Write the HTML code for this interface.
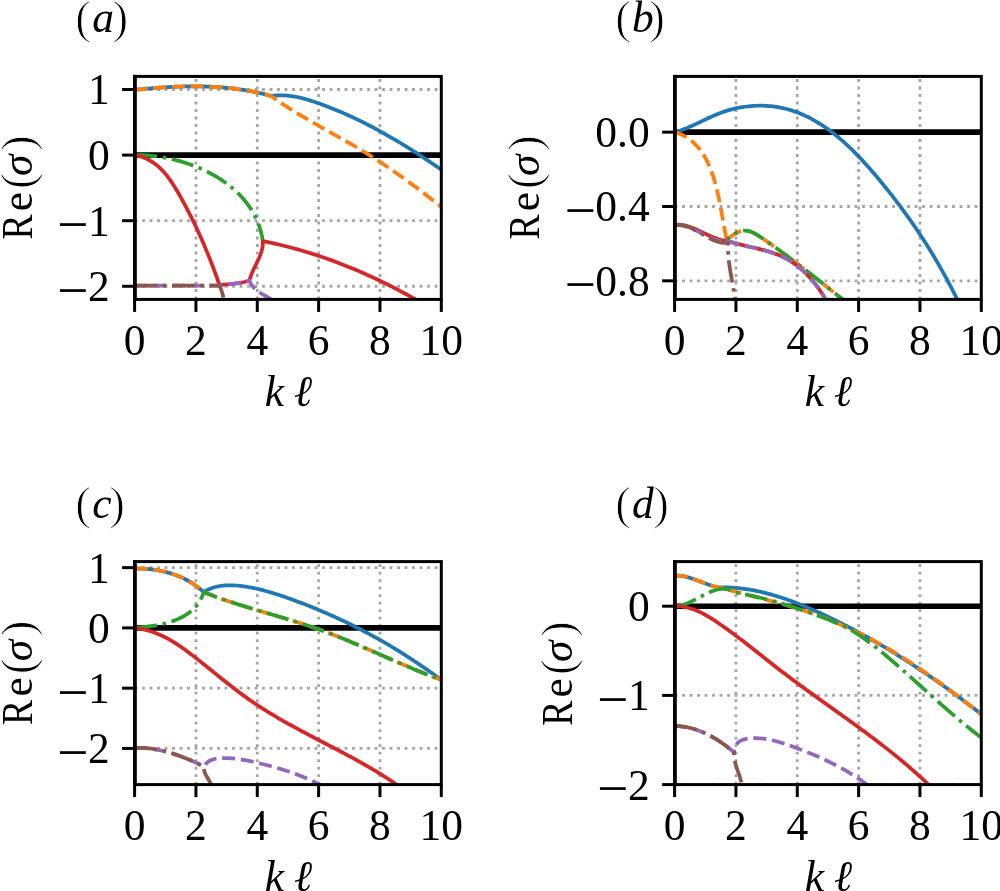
<!DOCTYPE html><html><head><meta charset="utf-8"><style>html,body{margin:0;padding:0;background:#fff;overflow:hidden;}svg{display:block;}text{font-family:"Liberation Serif",serif;font-size:43.50px;fill:#000;}.it{font-style:italic;}.pr{stroke:#fff;stroke-width:0.9px;}</style></head><body>
<svg width="1000" height="891" viewBox="0 0 1000 891">
<rect x="0" y="0" width="1000" height="891" fill="#fff"/>
<defs>
<clipPath id="clipa"><rect x="134.60" y="76.40" width="306.70" height="223.00"/></clipPath>
<clipPath id="clipb"><rect x="674.60" y="76.40" width="306.70" height="223.00"/></clipPath>
<clipPath id="clipc"><rect x="134.60" y="561.60" width="306.70" height="223.00"/></clipPath>
<clipPath id="clipd"><rect x="674.60" y="561.60" width="306.70" height="223.00"/></clipPath>
</defs>
<g stroke="#a6a6a6" stroke-width="2.83" stroke-dasharray="2.83 4.67" fill="none" clip-path="url(#clipa)"><line x1="195.94" y1="299.40" x2="195.94" y2="76.40"/><line x1="257.28" y1="299.40" x2="257.28" y2="76.40"/><line x1="318.62" y1="299.40" x2="318.62" y2="76.40"/><line x1="379.96" y1="299.40" x2="379.96" y2="76.40"/><line x1="134.60" y1="286.28" x2="441.30" y2="286.28"/><line x1="134.60" y1="220.69" x2="441.30" y2="220.69"/><line x1="134.60" y1="89.52" x2="441.30" y2="89.52"/></g>
<line x1="134.60" y1="155.11" x2="441.30" y2="155.11" stroke="#000" stroke-width="5.60"/>
<g clip-path="url(#clipa)" fill="none" stroke-width="3.75" stroke-linejoin="round">
<path d="M134.60,89.90 L136.64,89.69 L138.69,89.48 L140.73,89.28 L142.78,89.08 L144.82,88.88 L146.87,88.70 L148.92,88.51 L150.97,88.34 L153.02,88.16 L155.07,88.00 L157.12,87.84 L159.17,87.69 L161.22,87.54 L163.27,87.40 L165.32,87.27 L167.38,87.15 L169.43,87.03 L171.48,86.92 L173.53,86.82 L175.59,86.73 L177.64,86.65 L179.69,86.58 L181.75,86.51 L183.80,86.46 L185.85,86.41 L187.91,86.37 L189.96,86.35 L192.01,86.33 L194.06,86.32 L196.11,86.33 L198.16,86.34 L200.21,86.37 L202.26,86.41 L204.31,86.46 L206.36,86.52 L208.41,86.59 L210.45,86.68 L212.50,86.77 L214.54,86.88 L216.59,87.01 L218.63,87.14 L220.67,87.29 L222.71,87.46 L224.75,87.63 L226.79,87.82 L228.82,88.03 L230.86,88.25 L232.89,88.48 L234.93,88.73 L236.96,88.99 L238.99,89.27 L241.01,89.57 L243.04,89.88 L245.06,90.20 L247.09,90.55 L249.11,90.91 L251.13,91.28 L253.14,91.67 L255.16,92.08 L257.17,92.51 L259.18,92.95 L261.19,93.42 L263.20,93.90 L265.20,94.40 L267.20,94.91 L269.20,95.45 L271.20,96.00 L273.19,95.72 L275.18,95.52 L277.17,95.38 L279.15,95.30 L281.13,95.29 L283.11,95.33 L285.09,95.42 L287.06,95.57 L289.03,95.77 L290.99,96.02 L292.95,96.31 L294.91,96.65 L296.87,97.02 L298.82,97.44 L300.77,97.89 L302.72,98.37 L304.66,98.88 L306.60,99.43 L308.53,100.00 L310.46,100.59 L312.39,101.21 L314.32,101.84 L316.24,102.49 L318.15,103.16 L320.07,103.83 L321.98,104.52 L323.88,105.22 L325.78,105.93 L327.68,106.66 L329.58,107.39 L331.47,108.13 L333.35,108.89 L335.24,109.65 L337.11,110.43 L338.99,111.21 L340.86,112.01 L342.73,112.81 L344.59,113.63 L346.45,114.45 L348.31,115.29 L350.16,116.13 L352.01,116.98 L353.85,117.84 L355.69,118.71 L357.53,119.59 L359.36,120.48 L361.19,121.38 L363.02,122.28 L364.84,123.20 L366.65,124.12 L368.47,125.05 L370.28,125.99 L372.08,126.93 L373.88,127.88 L375.68,128.84 L377.48,129.81 L379.27,130.79 L381.05,131.77 L382.83,132.76 L384.61,133.75 L386.39,134.76 L388.16,135.77 L389.92,136.78 L391.69,137.80 L393.45,138.83 L395.20,139.86 L396.95,140.90 L398.70,141.95 L400.44,143.00 L402.18,144.06 L403.92,145.12 L405.65,146.18 L407.37,147.26 L409.10,148.33 L410.82,149.41 L412.53,150.50 L414.24,151.59 L415.95,152.69 L417.65,153.79 L419.35,154.89 L421.05,156.00 L422.74,157.11 L424.43,158.22 L426.11,159.34 L427.79,160.47 L429.47,161.59 L431.14,162.72 L432.81,163.85 L434.47,164.99 L436.13,166.12 L437.78,167.26 L439.43,168.41 L441.08,169.55 L442.73,170.70 L444.36,171.85 L446.00,173.00" stroke="#1f77b4" stroke-linecap="butt"/>
<path d="M134.60,89.90 L136.64,89.69 L138.69,89.48 L140.73,89.28 L142.78,89.08 L144.82,88.88 L146.87,88.70 L148.92,88.51 L150.97,88.34 L153.02,88.16 L155.07,88.00 L157.12,87.84 L159.17,87.69 L161.22,87.54 L163.27,87.40 L165.32,87.27 L167.38,87.15 L169.43,87.03 L171.48,86.92 L173.53,86.82 L175.59,86.73 L177.64,86.65 L179.69,86.58 L181.75,86.51 L183.80,86.46 L185.85,86.41 L187.91,86.37 L189.96,86.35 L192.01,86.33 L194.06,86.32 L196.11,86.33 L198.16,86.34 L200.21,86.37 L202.26,86.41 L204.31,86.46 L206.36,86.52 L208.41,86.59 L210.45,86.68 L212.50,86.77 L214.54,86.88 L216.59,87.01 L218.63,87.14 L220.67,87.29 L222.71,87.46 L224.75,87.63 L226.79,87.82 L228.82,88.03 L230.86,88.25 L232.89,88.48 L234.93,88.73 L236.96,88.99 L238.99,89.27 L241.01,89.57 L243.04,89.88 L245.06,90.20 L247.09,90.55 L249.11,90.91 L251.13,91.28 L253.14,91.67 L255.16,92.08 L257.17,92.51 L259.18,92.95 L261.19,93.42 L263.20,93.90 L265.20,94.40 L267.20,94.91 L269.20,95.45 L271.20,96.00 L272.83,97.19 L274.48,98.37 L276.13,99.53 L277.79,100.68 L279.45,101.83 L281.13,102.96 L282.81,104.08 L284.49,105.20 L286.19,106.30 L287.89,107.40 L289.59,108.49 L291.30,109.57 L293.02,110.64 L294.74,111.71 L296.47,112.77 L298.20,113.82 L299.93,114.86 L301.67,115.90 L303.42,116.94 L305.16,117.97 L306.91,118.99 L308.67,120.02 L310.43,121.03 L312.19,122.05 L313.95,123.05 L315.71,124.06 L317.48,125.07 L319.25,126.07 L321.02,127.07 L322.79,128.07 L324.56,129.06 L326.34,130.06 L328.11,131.05 L329.88,132.05 L331.66,133.04 L333.43,134.04 L335.21,135.04 L336.98,136.04 L338.75,137.04 L340.52,138.04 L342.29,139.04 L344.06,140.05 L345.83,141.06 L347.59,142.07 L349.36,143.09 L351.12,144.11 L352.87,145.13 L354.63,146.16 L356.38,147.20 L358.12,148.24 L359.87,149.28 L361.61,150.33 L363.34,151.39 L365.07,152.46 L366.80,153.53 L368.53,154.60 L370.24,155.68 L371.96,156.77 L373.67,157.87 L375.38,158.97 L377.09,160.07 L378.79,161.18 L380.48,162.30 L382.18,163.42 L383.87,164.55 L385.56,165.68 L387.24,166.81 L388.92,167.96 L390.60,169.10 L392.27,170.26 L393.94,171.41 L395.61,172.57 L397.27,173.74 L398.94,174.91 L400.59,176.09 L402.25,177.27 L403.90,178.45 L405.55,179.64 L407.20,180.83 L408.84,182.03 L410.48,183.23 L412.12,184.43 L413.76,185.64 L415.39,186.85 L417.02,188.07 L418.65,189.29 L420.28,190.51 L421.90,191.74 L423.52,192.97 L425.14,194.20 L426.76,195.44 L428.37,196.68 L429.98,197.92 L431.59,199.17 L433.20,200.42 L434.81,201.67 L436.41,202.92 L438.01,204.18 L439.61,205.44 L441.21,206.70 L442.81,207.97 L444.41,209.23 L446.00,210.50" stroke="#ff7f0e" stroke-dasharray="13.06 5.65" stroke-linecap="butt"/>
<path d="M134.60,155.00 L136.54,154.99 L138.48,155.01 L140.44,155.05 L142.41,155.12 L144.38,155.22 L146.37,155.34 L148.37,155.49 L150.37,155.66 L152.38,155.86 L154.39,156.09 L156.42,156.34 L158.44,156.62 L160.47,156.92 L162.50,157.26 L164.53,157.61 L166.57,158.00 L168.60,158.41 L170.64,158.84 L172.67,159.31 L174.70,159.80 L176.73,160.31 L178.75,160.85 L180.77,161.42 L182.78,162.01 L184.79,162.63 L186.79,163.28 L188.78,163.95 L190.77,164.65 L192.74,165.37 L194.71,166.12 L196.66,166.90 L198.60,167.70 L200.53,168.53 L202.45,169.38 L204.35,170.26 L206.24,171.17 L208.11,172.10 L209.96,173.06 L211.80,174.05 L213.61,175.06 L215.41,176.10 L217.19,177.16 L218.95,178.25 L220.69,179.37 L222.40,180.51 L224.09,181.68 L225.76,182.87 L227.41,184.09 L229.02,185.34 L230.61,186.61 L232.18,187.91 L233.71,189.24 L235.22,190.59 L236.70,191.96 L238.15,193.37 L239.56,194.80 L240.95,196.25 L242.30,197.73 L243.62,199.24 L244.90,200.77 L246.15,202.33 L247.36,203.92 L248.54,205.53 L249.67,207.17 L250.77,208.83 L251.83,210.52 L252.85,212.24 L253.83,213.98 L254.77,215.75 L255.67,217.54 L256.52,219.36 L257.33,221.21 L258.09,223.08 L258.81,224.98 L259.48,226.90 L260.10,228.85 L260.67,230.83 L261.20,232.83 L261.68,234.86 L262.10,236.91 L262.48,238.99 L262.80,241.10" stroke="#2ca02c" stroke-dasharray="22.59 5.65 3.53 5.65" stroke-linecap="butt"/>
<path d="M134.60,155.00 L136.72,155.41 L138.77,155.91 L140.77,156.49 L142.71,157.15 L144.59,157.88 L146.42,158.69 L148.19,159.56 L149.92,160.51 L151.60,161.52 L153.22,162.59 L154.81,163.72 L156.35,164.91 L157.84,166.16 L159.30,167.45 L160.71,168.80 L162.09,170.20 L163.44,171.63 L164.75,173.12 L166.03,174.64 L167.28,176.20 L168.49,177.79 L169.69,179.41 L170.85,181.07 L172.00,182.75 L173.12,184.45 L174.22,186.18 L175.30,187.93 L176.37,189.69 L177.42,191.47 L178.45,193.25 L179.48,195.05 L180.50,196.85 L181.50,198.66 L182.50,200.47 L183.49,202.29 L184.47,204.10 L185.45,205.92 L186.41,207.75 L187.37,209.58 L188.32,211.41 L189.26,213.24 L190.19,215.08 L191.12,216.92 L192.04,218.76 L192.95,220.61 L193.85,222.46 L194.74,224.31 L195.63,226.16 L196.50,228.02 L197.37,229.88 L198.23,231.74 L199.09,233.60 L199.94,235.47 L200.77,237.34 L201.60,239.21 L202.43,241.08 L203.24,242.96 L204.05,244.84 L204.85,246.71 L205.64,248.60 L206.43,250.48 L207.21,252.36 L207.98,254.25 L208.74,256.14 L209.50,258.03 L210.24,259.92 L210.98,261.81 L211.72,263.70 L212.44,265.60 L213.16,267.49 L213.87,269.39 L214.58,271.29 L215.27,273.19 L215.96,275.09 L216.64,276.99 L217.32,278.89 L217.99,280.79 L218.65,282.70 L219.30,284.60 L221.47,284.59 L223.65,284.54 L225.83,284.46 L228.00,284.33 L230.17,284.17 L232.34,283.97 L234.50,283.72 L236.66,283.43 L238.81,283.08 L240.95,282.69 L243.08,282.25 L245.20,281.76 L247.31,281.21 L249.40,280.60 L249.95,278.57 L250.59,276.58 L251.32,274.61 L252.12,272.66 L252.97,270.74 L253.87,268.82 L254.80,266.92 L255.73,265.02 L256.67,263.12 L257.59,261.22 L258.48,259.31 L259.33,257.39 L260.12,255.45 L260.83,253.50 L261.46,251.52 L261.99,249.51 L262.40,247.46 L262.68,245.39 L262.82,243.27 L262.80,241.10 L264.80,241.50 L266.80,241.90 L268.80,242.32 L270.80,242.75 L272.79,243.18 L274.78,243.63 L276.77,244.08 L278.76,244.54 L280.75,245.01 L282.73,245.49 L284.71,245.98 L286.69,246.48 L288.67,246.99 L290.64,247.50 L292.61,248.03 L294.58,248.56 L296.55,249.11 L298.51,249.66 L300.47,250.22 L302.43,250.79 L304.39,251.36 L306.34,251.95 L308.29,252.54 L310.24,253.15 L312.19,253.76 L314.13,254.38 L316.07,255.00 L318.01,255.64 L319.95,256.28 L321.88,256.94 L323.81,257.60 L325.74,258.26 L327.66,258.94 L329.59,259.63 L331.50,260.32 L333.42,261.02 L335.34,261.73 L337.25,262.44 L339.15,263.17 L341.06,263.90 L342.96,264.64 L344.86,265.38 L346.76,266.14 L348.65,266.90 L350.54,267.67 L352.43,268.44 L354.32,269.23 L356.20,270.02 L358.08,270.82 L359.95,271.62 L361.82,272.44 L363.69,273.26 L365.56,274.09 L367.42,274.92 L369.28,275.76 L371.14,276.61 L372.99,277.47 L374.84,278.33 L376.69,279.20 L378.53,280.07 L380.38,280.96 L382.21,281.85 L384.05,282.74 L385.88,283.64 L387.70,284.55 L389.53,285.47 L391.35,286.39 L393.17,287.32 L394.98,288.26 L396.79,289.20 L398.60,290.15 L400.40,291.10 L402.20,292.06 L404.00,293.03 L405.79,294.00 L407.58,294.98 L409.36,295.96 L411.15,296.96 L412.92,297.95 L414.70,298.96 L416.47,299.96 L418.24,300.98 L420.00,302.00" stroke="#d62728" stroke-linecap="butt"/>
<path d="M134.60,285.60 L219.30,285.60 L221.44,285.19 L223.60,284.84 L225.76,284.54 L227.93,284.28 L230.10,284.05 L232.27,283.82 L234.45,283.59 L236.61,283.33 L238.77,283.05 L240.93,282.71 L243.07,282.31 L245.20,281.84 L247.31,281.27 L249.40,280.60 L250.31,282.71 L251.41,284.63 L252.66,286.38 L254.06,287.98 L255.59,289.45 L257.23,290.80 L258.97,292.06 L260.78,293.24 L262.65,294.36 L264.57,295.44 L266.51,296.49 L268.46,297.53 L270.40,298.59 L272.31,299.67 L274.19,300.80 L276.00,302.00" stroke="#9467bd" stroke-dasharray="13.06 5.65" stroke-linecap="butt"/>
<path d="M134.60,285.60 L219.30,285.60 L220.34,287.63 L221.22,289.73 L221.95,291.88 L222.57,294.08 L223.10,296.30 L223.58,298.54 L224.04,300.78 L224.50,303.00" stroke="#8c564b" stroke-dasharray="22.59 5.65 3.53 5.65" stroke-linecap="butt"/>
</g>
<rect x="134.60" y="76.40" width="306.70" height="223.00" fill="none" stroke="#000" stroke-width="3.00" stroke-linejoin="miter"/>
<line x1="134.90" y1="74.90" x2="134.90" y2="300.90" stroke="#000" stroke-width="3.8"/>
<g stroke="#000" stroke-width="3.00"><line x1="134.60" y1="299.40" x2="134.60" y2="311.90"/><line x1="195.94" y1="299.40" x2="195.94" y2="311.90"/><line x1="257.28" y1="299.40" x2="257.28" y2="311.90"/><line x1="318.62" y1="299.40" x2="318.62" y2="311.90"/><line x1="379.96" y1="299.40" x2="379.96" y2="311.90"/><line x1="441.30" y1="299.40" x2="441.30" y2="311.90"/><line x1="134.60" y1="286.28" x2="122.10" y2="286.28"/><line x1="134.60" y1="220.69" x2="122.10" y2="220.69"/><line x1="134.60" y1="155.11" x2="122.10" y2="155.11"/><line x1="134.60" y1="89.52" x2="122.10" y2="89.52"/></g>
<text x="134.60" y="354.70" text-anchor="middle">0</text>
<text x="195.94" y="354.70" text-anchor="middle">2</text>
<text x="257.28" y="354.70" text-anchor="middle">4</text>
<text x="318.62" y="354.70" text-anchor="middle">6</text>
<text x="379.96" y="354.70" text-anchor="middle">8</text>
<text x="441.30" y="354.70" text-anchor="middle">10</text>
<text><tspan x="57.03" y="308.77" style="font-size:55.68px">−</tspan><tspan x="87.95" y="301.18">2</tspan></text>
<text><tspan x="57.03" y="243.18" style="font-size:55.68px">−</tspan><tspan x="87.95" y="235.59">1</tspan></text>
<text x="87.95" y="170.01">0</text>
<text x="87.95" y="104.42">1</text>
<text class="it"><tspan x="264.75" y="405.50">k </tspan><tspan x="293.90" y="405.50">ℓ</tspan></text>
<text transform="translate(31.70,238.50) rotate(-90)"><tspan x="-1.08" y="0" textLength="25.04" lengthAdjust="spacingAndGlyphs">R</tspan><tspan x="27.30" y="0">e</tspan><tspan x="49.63" y="0.9" class="pr" style="font-size:47.0px">(</tspan><tspan x="62.60" y="0" class="it">σ</tspan><tspan x="87.59" y="0.9" class="pr" style="font-size:47.0px">)</tspan></text>
<text><tspan x="75.13" y="33.30" class="pr" style="font-size:47.0px">(</tspan><tspan x="92.30" y="32.40" class="it">a</tspan><tspan x="112.41" y="33.30" class="pr" style="font-size:47.0px">)</tspan></text>
<g stroke="#a6a6a6" stroke-width="2.83" stroke-dasharray="2.83 4.67" fill="none" clip-path="url(#clipb)"><line x1="735.94" y1="299.40" x2="735.94" y2="76.40"/><line x1="797.28" y1="299.40" x2="797.28" y2="76.40"/><line x1="858.62" y1="299.40" x2="858.62" y2="76.40"/><line x1="919.96" y1="299.40" x2="919.96" y2="76.40"/><line x1="674.60" y1="280.82" x2="981.30" y2="280.82"/><line x1="674.60" y1="206.48" x2="981.30" y2="206.48"/></g>
<line x1="674.60" y1="132.15" x2="981.30" y2="132.15" stroke="#000" stroke-width="5.60"/>
<g clip-path="url(#clipb)" fill="none" stroke-width="3.75" stroke-linejoin="round">
<path d="M674.60,132.10 L676.53,131.59 L678.45,131.03 L680.36,130.43 L682.25,129.78 L684.12,129.10 L685.99,128.38 L687.85,127.63 L689.70,126.85 L691.54,126.05 L693.37,125.23 L695.20,124.39 L697.03,123.53 L698.85,122.67 L700.68,121.80 L702.50,120.92 L704.33,120.04 L706.16,119.17 L707.99,118.30 L709.83,117.45 L711.67,116.61 L713.52,115.78 L715.38,114.97 L717.25,114.19 L719.14,113.44 L721.03,112.71 L722.94,112.02 L724.86,111.37 L726.80,110.75 L728.75,110.16 L730.71,109.61 L732.68,109.10 L734.65,108.62 L736.64,108.18 L738.64,107.78 L740.64,107.41 L742.65,107.07 L744.66,106.77 L746.68,106.51 L748.70,106.29 L750.72,106.10 L752.74,105.94 L754.76,105.83 L756.79,105.75 L758.81,105.70 L760.83,105.70 L762.85,105.73 L764.86,105.79 L766.86,105.90 L768.87,106.04 L770.86,106.21 L772.85,106.43 L774.83,106.68 L776.80,106.97 L778.76,107.29 L780.70,107.66 L782.64,108.06 L784.56,108.49 L786.47,108.97 L788.37,109.48 L790.25,110.02 L792.13,110.61 L793.99,111.22 L795.83,111.87 L797.67,112.55 L799.49,113.27 L801.30,114.01 L803.10,114.79 L804.89,115.60 L806.67,116.43 L808.43,117.30 L810.19,118.20 L811.93,119.12 L813.66,120.08 L815.37,121.06 L817.08,122.06 L818.78,123.10 L820.46,124.15 L822.14,125.24 L823.80,126.34 L825.45,127.47 L827.09,128.62 L828.72,129.80 L830.34,131.00 L831.95,132.22 L833.55,133.45 L835.14,134.71 L836.72,135.99 L838.29,137.29 L839.85,138.60 L841.40,139.94 L842.94,141.28 L844.47,142.65 L845.99,144.03 L847.50,145.43 L849.00,146.84 L850.49,148.27 L851.97,149.71 L853.44,151.16 L854.90,152.62 L856.36,154.10 L857.80,155.58 L859.24,157.08 L860.66,158.59 L862.08,160.10 L863.49,161.63 L864.89,163.16 L866.28,164.70 L867.67,166.25 L869.04,167.80 L870.41,169.36 L871.77,170.92 L873.12,172.49 L874.46,174.06 L875.80,175.64 L877.13,177.21 L878.45,178.79 L879.76,180.37 L881.06,181.96 L882.36,183.54 L883.65,185.12 L884.93,186.70 L886.20,188.29 L887.47,189.87 L888.73,191.45 L889.99,193.04 L891.23,194.62 L892.47,196.20 L893.70,197.79 L894.93,199.38 L896.15,200.97 L897.36,202.56 L898.56,204.15 L899.76,205.74 L900.95,207.33 L902.14,208.93 L903.32,210.53 L904.49,212.13 L905.65,213.73 L906.81,215.33 L907.97,216.94 L909.11,218.55 L910.26,220.16 L911.39,221.77 L912.52,223.39 L913.64,225.01 L914.76,226.63 L915.87,228.26 L916.98,229.89 L918.08,231.52 L919.17,233.16 L920.26,234.80 L921.34,236.45 L922.42,238.09 L923.49,239.75 L924.56,241.40 L925.62,243.06 L926.68,244.73 L927.73,246.40 L928.78,248.07 L929.82,249.75 L930.85,251.44 L931.89,253.13 L932.91,254.82 L933.93,256.52 L934.95,258.23 L935.96,259.94 L936.97,261.66 L937.97,263.38 L938.97,265.11 L939.97,266.84 L940.95,268.59 L941.94,270.33 L942.92,272.09 L943.90,273.85 L944.87,275.61 L945.84,277.39 L946.80,279.17 L947.76,280.96 L948.72,282.75 L949.67,284.55 L950.62,286.36 L951.57,288.18 L952.51,290.00 L953.45,291.84 L954.38,293.68 L955.31,295.53 L956.24,297.38 L957.16,299.25 L958.08,301.12 L959.00,303.00" stroke="#1f77b4" stroke-linecap="butt"/>
<path d="M674.60,132.10 L676.67,132.74 L678.68,133.46 L680.62,134.25 L682.49,135.11 L684.30,136.04 L686.05,137.04 L687.74,138.11 L689.36,139.23 L690.93,140.42 L692.44,141.67 L693.90,142.97 L695.30,144.33 L696.65,145.74 L697.95,147.20 L699.20,148.71 L700.40,150.26 L701.55,151.86 L702.66,153.50 L703.73,155.18 L704.75,156.89 L705.73,158.65 L706.67,160.43 L707.57,162.25 L708.44,164.09 L709.27,165.96 L710.06,167.86 L710.82,169.78 L711.55,171.72 L712.25,173.68 L712.93,175.65 L713.57,177.64 L714.19,179.64 L714.79,181.65 L715.36,183.67 L715.91,185.70 L716.44,187.74 L716.95,189.79 L717.44,191.84 L717.91,193.90 L718.37,195.96 L718.81,198.03 L719.24,200.09 L719.65,202.16 L720.06,204.23 L720.45,206.29 L720.84,208.35 L721.22,210.41 L721.59,212.47 L721.95,214.52 L722.32,216.56 L722.68,218.60 L723.04,220.63 L723.39,222.64 L723.75,224.65 L724.11,226.65 L724.48,228.63 L724.85,230.60 L725.22,232.55 L725.60,234.49 L725.99,236.41 L726.39,238.31 L726.80,240.20 L728.21,238.84 L729.72,237.49 L731.33,236.18 L733.02,234.94 L734.76,233.80 L736.56,232.78 L738.39,231.92 L740.24,231.25 L742.09,230.79 L743.94,230.58 L745.77,230.60 L747.58,230.84 L749.38,231.28 L751.17,231.88 L752.95,232.63 L754.72,233.51 L756.47,234.50 L758.22,235.57 L759.96,236.69 L761.68,237.86 L763.41,239.04 L765.12,240.22 L766.82,241.41 L768.52,242.59 L770.22,243.79 L771.90,244.98 L773.58,246.18 L775.26,247.38 L776.92,248.58 L778.59,249.78 L780.24,250.99 L781.89,252.20 L783.54,253.41 L785.18,254.62 L786.82,255.84 L788.45,257.06 L790.08,258.28 L791.70,259.50 L793.32,260.72 L794.94,261.95 L796.55,263.18 L798.16,264.41 L799.77,265.64 L801.37,266.87 L802.97,268.11 L804.57,269.35 L806.17,270.58 L807.76,271.83 L809.36,273.07 L810.95,274.31 L812.54,275.56 L814.13,276.81 L815.72,278.05 L817.30,279.30 L818.89,280.56 L820.48,281.81 L822.07,283.06 L823.65,284.32 L825.24,285.57 L826.83,286.83 L828.42,288.09 L830.01,289.35 L831.60,290.61 L833.19,291.87 L834.78,293.14 L836.38,294.40 L837.98,295.66 L839.58,296.93 L841.18,298.20 L842.78,299.46 L844.39,300.73 L846.00,302.00" stroke="#ff7f0e" stroke-dasharray="13.06 5.65" stroke-linecap="butt"/>
<path d="M726.80,240.20 L728.21,238.84 L729.72,237.49 L731.33,236.18 L733.02,234.94 L734.76,233.80 L736.56,232.78 L738.39,231.92 L740.24,231.25 L742.09,230.79 L743.94,230.58 L745.77,230.60 L747.58,230.84 L749.38,231.28 L751.17,231.88 L752.95,232.63 L754.72,233.51 L756.47,234.50 L758.22,235.57 L759.96,236.69 L761.68,237.86 L763.41,239.04 L765.12,240.22 L766.82,241.41 L768.52,242.59 L770.22,243.79 L771.90,244.98 L773.58,246.18 L775.26,247.38 L776.92,248.58 L778.59,249.78 L780.24,250.99 L781.89,252.20 L783.54,253.41 L785.18,254.62 L786.82,255.84 L788.45,257.06 L790.08,258.28 L791.70,259.50 L793.32,260.72 L794.94,261.95 L796.55,263.18 L798.16,264.41 L799.77,265.64 L801.37,266.87 L802.97,268.11 L804.57,269.35 L806.17,270.58 L807.76,271.83 L809.36,273.07 L810.95,274.31 L812.54,275.56 L814.13,276.81 L815.72,278.05 L817.30,279.30 L818.89,280.56 L820.48,281.81 L822.07,283.06 L823.65,284.32 L825.24,285.57 L826.83,286.83 L828.42,288.09 L830.01,289.35 L831.60,290.61 L833.19,291.87 L834.78,293.14 L836.38,294.40 L837.98,295.66 L839.58,296.93 L841.18,298.20 L842.78,299.46 L844.39,300.73 L846.00,302.00" stroke="#2ca02c" stroke-dasharray="22.59 5.65 3.53 5.65" stroke-dashoffset="18.30" stroke-linecap="butt"/>
<path d="M674.60,224.60 L676.82,224.55 L679.00,224.64 L681.13,224.85 L683.24,225.19 L685.31,225.63 L687.35,226.17 L689.37,226.79 L691.37,227.49 L693.35,228.26 L695.31,229.08 L697.26,229.94 L699.20,230.84 L701.13,231.75 L703.07,232.68 L705.00,233.61 L706.93,234.53 L708.88,235.43 L710.83,236.29 L712.80,237.12 L714.78,237.89 L716.78,238.60 L718.81,239.23 L720.86,239.78 L722.94,240.23 L725.05,240.57 L727.20,240.80 L729.09,241.43 L731.00,242.03 L732.93,242.60 L734.87,243.15 L736.82,243.68 L738.79,244.19 L740.77,244.68 L742.75,245.16 L744.75,245.63 L746.75,246.10 L748.75,246.56 L750.75,247.02 L752.76,247.48 L754.76,247.94 L756.77,248.41 L758.77,248.89 L760.76,249.39 L762.74,249.89 L764.72,250.42 L766.69,250.97 L768.64,251.54 L770.58,252.14 L772.51,252.77 L774.42,253.43 L776.31,254.13 L778.18,254.86 L780.03,255.63 L781.86,256.45 L783.66,257.32 L785.43,258.23 L787.19,259.18 L788.91,260.18 L790.61,261.22 L792.29,262.30 L793.94,263.42 L795.57,264.58 L797.17,265.79 L798.75,267.03 L800.30,268.30 L801.82,269.62 L803.33,270.96 L804.80,272.35 L806.25,273.76 L807.68,275.21 L809.08,276.69 L810.45,278.20 L811.80,279.74 L813.12,281.30 L814.42,282.90 L815.69,284.52 L816.94,286.17 L818.16,287.84 L819.35,289.54 L820.52,291.26 L821.67,293.00 L822.79,294.76 L823.88,296.54 L824.94,298.34 L825.98,300.16 L827.00,302.00" stroke="#d62728" stroke-linecap="butt"/>
<path d="M674.60,225.00 L676.83,224.95 L679.01,225.07 L681.16,225.33 L683.26,225.73 L685.33,226.25 L687.37,226.88 L689.38,227.60 L691.37,228.40 L693.34,229.27 L695.30,230.19 L697.24,231.16 L699.17,232.15 L701.09,233.16 L703.02,234.17 L704.94,235.16 L706.87,236.13 L708.80,237.07 L710.75,237.95 L712.72,238.76 L714.70,239.49 L716.71,240.14 L718.74,240.67 L720.80,241.09 L722.90,241.38 L725.03,241.52 L727.20,241.50 L727.20,240.80 L729.09,241.43 L731.00,242.03 L732.93,242.60 L734.87,243.15 L736.82,243.68 L738.79,244.19 L740.77,244.68 L742.75,245.16 L744.75,245.63 L746.75,246.10 L748.75,246.56 L750.75,247.02 L752.76,247.48 L754.76,247.94 L756.77,248.41 L758.77,248.89 L760.76,249.39 L762.74,249.89 L764.72,250.42 L766.69,250.97 L768.64,251.54 L770.58,252.14 L772.51,252.77 L774.42,253.43 L776.31,254.13 L778.18,254.86 L780.03,255.63 L781.86,256.45 L783.66,257.32 L785.43,258.23 L787.19,259.18 L788.91,260.18 L790.61,261.22 L792.29,262.30 L793.94,263.42 L795.57,264.58 L797.17,265.79 L798.75,267.03 L800.30,268.30 L801.82,269.62 L803.33,270.96 L804.80,272.35 L806.25,273.76 L807.68,275.21 L809.08,276.69 L810.45,278.20 L811.80,279.74 L813.12,281.30 L814.42,282.90 L815.69,284.52 L816.94,286.17 L818.16,287.84 L819.35,289.54 L820.52,291.26 L821.67,293.00 L822.79,294.76 L823.88,296.54 L824.94,298.34 L825.98,300.16 L827.00,302.00" stroke="#9467bd" stroke-dasharray="13.06 5.65" stroke-linecap="butt"/>
<path d="M674.60,225.00 L676.85,224.86 L679.05,224.90 L681.20,225.10 L683.30,225.46 L685.36,225.97 L687.37,226.59 L689.36,227.33 L691.31,228.16 L693.24,229.08 L695.14,230.06 L697.02,231.09 L698.89,232.16 L700.75,233.25 L702.61,234.36 L704.46,235.45 L706.31,236.53 L708.17,237.57 L710.04,238.55 L711.93,239.48 L713.83,240.32 L715.75,241.08 L717.70,241.72 L719.69,242.24 L721.70,242.62 L723.76,242.85 L725.85,242.92 L728.00,242.80 L727.93,244.94 L727.91,247.07 L727.94,249.20 L728.01,251.32 L728.13,253.45 L728.29,255.57 L728.48,257.68 L728.71,259.80 L728.96,261.91 L729.24,264.02 L729.55,266.13 L729.87,268.24 L730.21,270.35 L730.56,272.46 L730.93,274.56 L731.30,276.67 L731.67,278.77 L732.04,280.88 L732.41,282.98 L732.77,285.09 L733.12,287.20 L733.45,289.31 L733.77,291.42 L734.07,293.53 L734.35,295.64 L734.60,297.76 L734.81,299.88 L735.00,302.00" stroke="#8c564b" stroke-dasharray="22.59 5.65 3.53 5.65" stroke-linecap="butt"/>
</g>
<rect x="674.60" y="76.40" width="306.70" height="223.00" fill="none" stroke="#000" stroke-width="3.00" stroke-linejoin="miter"/>
<line x1="674.90" y1="74.90" x2="674.90" y2="300.90" stroke="#000" stroke-width="3.8"/>
<g stroke="#000" stroke-width="3.00"><line x1="674.60" y1="299.40" x2="674.60" y2="311.90"/><line x1="735.94" y1="299.40" x2="735.94" y2="311.90"/><line x1="797.28" y1="299.40" x2="797.28" y2="311.90"/><line x1="858.62" y1="299.40" x2="858.62" y2="311.90"/><line x1="919.96" y1="299.40" x2="919.96" y2="311.90"/><line x1="981.30" y1="299.40" x2="981.30" y2="311.90"/><line x1="674.60" y1="280.82" x2="662.10" y2="280.82"/><line x1="674.60" y1="206.48" x2="662.10" y2="206.48"/><line x1="674.60" y1="132.15" x2="662.10" y2="132.15"/></g>
<text x="674.60" y="354.70" text-anchor="middle">0</text>
<text x="735.94" y="354.70" text-anchor="middle">2</text>
<text x="797.28" y="354.70" text-anchor="middle">4</text>
<text x="858.62" y="354.70" text-anchor="middle">6</text>
<text x="919.96" y="354.70" text-anchor="middle">8</text>
<text x="981.30" y="354.70" text-anchor="middle">10</text>
<text><tspan x="564.43" y="303.30" style="font-size:55.68px">−</tspan><tspan x="595.33" y="295.72">0.8</tspan></text>
<text><tspan x="564.43" y="228.97" style="font-size:55.68px">−</tspan><tspan x="595.33" y="221.38">0.4</tspan></text>
<text x="595.33" y="147.05">0.0</text>
<text class="it"><tspan x="804.75" y="405.50">k </tspan><tspan x="833.90" y="405.50">ℓ</tspan></text>
<text transform="translate(539.40,238.50) rotate(-90)"><tspan x="-1.08" y="0" textLength="25.04" lengthAdjust="spacingAndGlyphs">R</tspan><tspan x="27.30" y="0">e</tspan><tspan x="49.63" y="0.9" class="pr" style="font-size:47.0px">(</tspan><tspan x="62.60" y="0" class="it">σ</tspan><tspan x="87.59" y="0.9" class="pr" style="font-size:47.0px">)</tspan></text>
<text><tspan x="615.13" y="33.30" class="pr" style="font-size:47.0px">(</tspan><tspan x="631.99" y="32.40" class="it">b</tspan><tspan x="649.21" y="33.30" class="pr" style="font-size:47.0px">)</tspan></text>
<g stroke="#a6a6a6" stroke-width="2.83" stroke-dasharray="2.83 4.67" fill="none" clip-path="url(#clipc)"><line x1="195.94" y1="784.60" x2="195.94" y2="561.60"/><line x1="257.28" y1="784.60" x2="257.28" y2="561.60"/><line x1="318.62" y1="784.60" x2="318.62" y2="561.60"/><line x1="379.96" y1="784.60" x2="379.96" y2="561.60"/><line x1="134.60" y1="748.44" x2="441.30" y2="748.44"/><line x1="134.60" y1="688.17" x2="441.30" y2="688.17"/><line x1="134.60" y1="567.63" x2="441.30" y2="567.63"/></g>
<line x1="134.60" y1="627.90" x2="441.30" y2="627.90" stroke="#000" stroke-width="5.60"/>
<g clip-path="url(#clipc)" fill="none" stroke-width="3.75" stroke-linejoin="round">
<path d="M134.60,568.50 L136.67,568.49 L138.75,568.51 L140.83,568.56 L142.91,568.65 L144.99,568.77 L147.07,568.92 L149.15,569.11 L151.22,569.33 L153.29,569.59 L155.35,569.89 L157.40,570.22 L159.45,570.59 L161.49,571.00 L163.52,571.45 L165.54,571.93 L167.55,572.46 L169.54,573.02 L171.52,573.63 L173.49,574.27 L175.43,574.96 L177.37,575.70 L179.28,576.47 L181.18,577.29 L183.05,578.15 L184.90,579.05 L186.74,580.00 L188.54,581.00 L190.33,582.04 L192.09,583.13 L193.82,584.27 L195.52,585.45 L197.20,586.68 L198.85,587.96 L200.46,589.29 L202.05,590.67 L203.60,592.10 L205.36,591.05 L207.15,590.10 L208.96,589.24 L210.80,588.49 L212.65,587.82 L214.52,587.24 L216.40,586.75 L218.30,586.33 L220.22,585.99 L222.15,585.72 L224.09,585.51 L226.04,585.37 L228.00,585.29 L229.96,585.27 L231.94,585.30 L233.91,585.38 L235.90,585.50 L237.88,585.67 L239.87,585.87 L241.85,586.10 L243.84,586.37 L245.82,586.66 L247.81,586.98 L249.79,587.33 L251.77,587.70 L253.74,588.10 L255.72,588.52 L257.69,588.96 L259.66,589.43 L261.63,589.92 L263.60,590.43 L265.56,590.95 L267.53,591.50 L269.49,592.06 L271.44,592.64 L273.39,593.23 L275.35,593.84 L277.29,594.46 L279.24,595.09 L281.18,595.74 L283.11,596.39 L285.05,597.06 L286.98,597.73 L288.90,598.41 L290.82,599.10 L292.74,599.79 L294.65,600.49 L296.56,601.19 L298.47,601.91 L300.37,602.62 L302.27,603.35 L304.16,604.07 L306.05,604.81 L307.94,605.55 L309.82,606.30 L311.70,607.05 L313.57,607.81 L315.44,608.58 L317.31,609.35 L319.17,610.12 L321.03,610.91 L322.89,611.70 L324.74,612.49 L326.58,613.29 L328.43,614.10 L330.27,614.92 L332.11,615.74 L333.94,616.56 L335.77,617.39 L337.59,618.23 L339.41,619.08 L341.23,619.93 L343.05,620.78 L344.86,621.64 L346.67,622.51 L348.47,623.39 L350.27,624.27 L352.07,625.16 L353.86,626.05 L355.65,626.95 L357.44,627.85 L359.22,628.76 L361.00,629.68 L362.78,630.61 L364.55,631.54 L366.32,632.47 L368.09,633.41 L369.85,634.36 L371.61,635.32 L373.37,636.28 L375.12,637.24 L376.87,638.22 L378.61,639.20 L380.36,640.18 L382.10,641.17 L383.83,642.17 L385.57,643.18 L387.30,644.19 L389.03,645.20 L390.75,646.23 L392.47,647.26 L394.19,648.29 L395.90,649.33 L397.62,650.38 L399.32,651.43 L401.03,652.49 L402.73,653.56 L404.43,654.63 L406.13,655.71 L407.82,656.80 L409.51,657.89 L411.20,658.99 L412.89,660.09 L414.57,661.20 L416.25,662.32 L417.92,663.44 L419.60,664.57 L421.27,665.71 L422.94,666.85 L424.60,668.00 L426.26,669.15 L427.92,670.31 L429.58,671.48 L431.23,672.65 L432.89,673.83 L434.53,675.02 L436.18,676.21 L437.82,677.41 L439.46,678.62 L441.10,679.83 L442.74,681.05 L444.37,682.27 L446.00,683.50" stroke="#1f77b4" stroke-linecap="butt"/>
<path d="M134.60,568.50 L136.67,568.49 L138.75,568.51 L140.83,568.56 L142.91,568.65 L144.99,568.77 L147.07,568.92 L149.15,569.11 L151.22,569.33 L153.29,569.59 L155.35,569.89 L157.40,570.22 L159.45,570.59 L161.49,571.00 L163.52,571.45 L165.54,571.93 L167.55,572.46 L169.54,573.02 L171.52,573.63 L173.49,574.27 L175.43,574.96 L177.37,575.70 L179.28,576.47 L181.18,577.29 L183.05,578.15 L184.90,579.05 L186.74,580.00 L188.54,581.00 L190.33,582.04 L192.09,583.13 L193.82,584.27 L195.52,585.45 L197.20,586.68 L198.85,587.96 L200.46,589.29 L202.05,590.67 L203.60,592.10 L205.47,592.85 L207.34,593.59 L209.22,594.32 L211.10,595.04 L212.99,595.75 L214.88,596.45 L216.77,597.14 L218.66,597.83 L220.56,598.50 L222.46,599.17 L224.37,599.83 L226.28,600.48 L228.19,601.12 L230.10,601.76 L232.01,602.39 L233.93,603.01 L235.85,603.63 L237.77,604.25 L239.69,604.86 L241.62,605.46 L243.55,606.06 L245.48,606.65 L247.41,607.24 L249.34,607.83 L251.27,608.42 L253.20,609.00 L255.14,609.58 L257.07,610.15 L259.01,610.73 L260.95,611.30 L262.89,611.87 L264.82,612.44 L266.76,613.01 L268.70,613.58 L270.64,614.15 L272.58,614.73 L274.52,615.30 L276.46,615.87 L278.39,616.44 L280.33,617.02 L282.27,617.59 L284.21,618.17 L286.14,618.75 L288.08,619.34 L290.01,619.93 L291.94,620.52 L293.87,621.11 L295.80,621.71 L297.73,622.32 L299.65,622.92 L301.58,623.54 L303.50,624.16 L305.42,624.78 L307.34,625.41 L309.26,626.05 L311.17,626.70 L313.08,627.35 L314.99,628.01 L316.90,628.67 L318.80,629.35 L320.70,630.03 L322.60,630.72 L324.49,631.42 L326.38,632.12 L328.27,632.84 L330.16,633.56 L332.05,634.28 L333.93,635.02 L335.81,635.76 L337.69,636.50 L339.56,637.25 L341.44,638.01 L343.31,638.77 L345.18,639.54 L347.05,640.31 L348.92,641.08 L350.78,641.86 L352.65,642.65 L354.51,643.44 L356.37,644.23 L358.23,645.02 L360.09,645.82 L361.95,646.62 L363.81,647.42 L365.67,648.23 L367.52,649.03 L369.38,649.84 L371.23,650.65 L373.09,651.46 L374.94,652.28 L376.80,653.09 L378.65,653.90 L380.51,654.72 L382.36,655.53 L384.21,656.35 L386.07,657.16 L387.92,657.97 L389.78,658.79 L391.63,659.60 L393.49,660.41 L395.34,661.21 L397.20,662.02 L399.06,662.82 L400.92,663.62 L402.78,664.42 L404.64,665.22 L406.50,666.01 L408.36,666.80 L410.23,667.59 L412.09,668.37 L413.96,669.15 L415.83,669.92 L417.70,670.69 L419.57,671.45 L421.44,672.21 L423.32,672.96 L425.19,673.71 L427.07,674.45 L428.95,675.19 L430.84,675.92 L432.72,676.64 L434.61,677.36 L436.50,678.07 L438.40,678.77 L440.29,679.47 L442.19,680.15 L444.09,680.83 L446.00,681.50" stroke="#ff7f0e" stroke-dasharray="13.06 5.65" stroke-linecap="butt"/>
<path d="M134.60,628.00 L136.54,627.82 L138.50,627.62 L140.49,627.42 L142.50,627.20 L144.54,626.96 L146.59,626.71 L148.65,626.44 L150.72,626.15 L152.80,625.83 L154.88,625.48 L156.97,625.11 L159.05,624.71 L161.12,624.27 L163.19,623.80 L165.25,623.30 L167.29,622.75 L169.31,622.17 L171.31,621.54 L173.28,620.86 L175.23,620.14 L177.15,619.37 L179.04,618.55 L180.88,617.68 L182.69,616.75 L184.45,615.76 L186.17,614.71 L187.84,613.60 L189.46,612.43 L191.02,611.19 L192.52,609.88 L193.96,608.50 L195.33,607.05 L196.64,605.53 L197.87,603.93 L199.03,602.25 L200.11,600.49 L201.11,598.65 L202.03,596.72 L202.86,594.70 L203.60,592.60 L203.60,592.10 L205.47,592.85 L207.34,593.59 L209.22,594.32 L211.10,595.04 L212.99,595.75 L214.88,596.45 L216.77,597.14 L218.66,597.83 L220.56,598.50 L222.46,599.17 L224.37,599.83 L226.28,600.48 L228.19,601.12 L230.10,601.76 L232.01,602.39 L233.93,603.01 L235.85,603.63 L237.77,604.25 L239.69,604.86 L241.62,605.46 L243.55,606.06 L245.48,606.65 L247.41,607.24 L249.34,607.83 L251.27,608.42 L253.20,609.00 L255.14,609.58 L257.07,610.15 L259.01,610.73 L260.95,611.30 L262.89,611.87 L264.82,612.44 L266.76,613.01 L268.70,613.58 L270.64,614.15 L272.58,614.73 L274.52,615.30 L276.46,615.87 L278.39,616.44 L280.33,617.02 L282.27,617.59 L284.21,618.17 L286.14,618.75 L288.08,619.34 L290.01,619.93 L291.94,620.52 L293.87,621.11 L295.80,621.71 L297.73,622.32 L299.65,622.92 L301.58,623.54 L303.50,624.16 L305.42,624.78 L307.34,625.41 L309.26,626.05 L311.17,626.70 L313.08,627.35 L314.99,628.01 L316.90,628.67 L318.80,629.35 L320.70,630.03 L322.60,630.72 L324.49,631.42 L326.38,632.12 L328.27,632.84 L330.16,633.56 L332.05,634.28 L333.93,635.02 L335.81,635.76 L337.69,636.50 L339.56,637.25 L341.44,638.01 L343.31,638.77 L345.18,639.54 L347.05,640.31 L348.92,641.08 L350.78,641.86 L352.65,642.65 L354.51,643.44 L356.37,644.23 L358.23,645.02 L360.09,645.82 L361.95,646.62 L363.81,647.42 L365.67,648.23 L367.52,649.03 L369.38,649.84 L371.23,650.65 L373.09,651.46 L374.94,652.28 L376.80,653.09 L378.65,653.90 L380.51,654.72 L382.36,655.53 L384.21,656.35 L386.07,657.16 L387.92,657.97 L389.78,658.79 L391.63,659.60 L393.49,660.41 L395.34,661.21 L397.20,662.02 L399.06,662.82 L400.92,663.62 L402.78,664.42 L404.64,665.22 L406.50,666.01 L408.36,666.80 L410.23,667.59 L412.09,668.37 L413.96,669.15 L415.83,669.92 L417.70,670.69 L419.57,671.45 L421.44,672.21 L423.32,672.96 L425.19,673.71 L427.07,674.45 L428.95,675.19 L430.84,675.92 L432.72,676.64 L434.61,677.36 L436.50,678.07 L438.40,678.77 L440.29,679.47 L442.19,680.15 L444.09,680.83 L446.00,681.50" stroke="#2ca02c" stroke-dasharray="22.59 5.65 3.53 5.65" stroke-linecap="butt"/>
<path d="M134.60,628.10 L136.66,628.30 L138.70,628.55 L140.72,628.86 L142.71,629.23 L144.68,629.65 L146.63,630.12 L148.56,630.63 L150.47,631.20 L152.36,631.81 L154.23,632.46 L156.08,633.16 L157.91,633.90 L159.73,634.68 L161.53,635.49 L163.31,636.35 L165.08,637.23 L166.84,638.15 L168.58,639.11 L170.31,640.09 L172.02,641.10 L173.72,642.14 L175.42,643.20 L177.10,644.29 L178.77,645.39 L180.43,646.52 L182.08,647.67 L183.73,648.84 L185.37,650.02 L187.00,651.22 L188.62,652.43 L190.24,653.65 L191.85,654.88 L193.46,656.12 L195.07,657.36 L196.67,658.61 L198.27,659.87 L199.87,661.13 L201.46,662.39 L203.05,663.66 L204.64,664.93 L206.23,666.20 L207.82,667.48 L209.41,668.75 L211.00,670.03 L212.58,671.31 L214.17,672.59 L215.75,673.87 L217.34,675.15 L218.93,676.42 L220.51,677.70 L222.10,678.97 L223.69,680.24 L225.29,681.51 L226.88,682.78 L228.48,684.04 L230.08,685.30 L231.68,686.55 L233.29,687.79 L234.90,689.03 L236.51,690.27 L238.13,691.50 L239.75,692.72 L241.38,693.93 L243.01,695.13 L244.65,696.33 L246.29,697.52 L247.94,698.69 L249.60,699.86 L251.26,701.02 L252.92,702.17 L254.60,703.30 L256.28,704.43 L257.96,705.54 L259.65,706.65 L261.35,707.75 L263.05,708.84 L264.76,709.92 L266.48,710.99 L268.19,712.06 L269.92,713.11 L271.64,714.16 L273.38,715.20 L275.11,716.23 L276.85,717.26 L278.60,718.28 L280.35,719.29 L282.10,720.30 L283.85,721.30 L285.61,722.30 L287.38,723.29 L289.14,724.27 L290.91,725.25 L292.68,726.23 L294.46,727.20 L296.23,728.17 L298.01,729.13 L299.79,730.09 L301.58,731.05 L303.36,732.00 L305.15,732.95 L306.94,733.90 L308.73,734.84 L310.52,735.79 L312.31,736.73 L314.11,737.67 L315.90,738.61 L317.70,739.54 L319.49,740.48 L321.29,741.41 L323.09,742.35 L324.88,743.28 L326.68,744.22 L328.47,745.16 L330.27,746.09 L332.06,747.03 L333.86,747.97 L335.65,748.91 L337.45,749.85 L339.24,750.79 L341.03,751.74 L342.82,752.69 L344.60,753.64 L346.39,754.59 L348.17,755.55 L349.95,756.51 L351.73,757.47 L353.51,758.44 L355.28,759.41 L357.05,760.39 L358.82,761.37 L360.59,762.36 L362.35,763.35 L364.11,764.35 L365.86,765.35 L367.61,766.36 L369.36,767.38 L371.11,768.40 L372.85,769.42 L374.58,770.46 L376.31,771.50 L378.04,772.55 L379.76,773.61 L381.48,774.68 L383.19,775.75 L384.90,776.83 L386.60,777.92 L388.29,779.02 L389.99,780.13 L391.67,781.25 L393.35,782.38 L395.02,783.52 L396.69,784.67 L398.35,785.83 L400.00,787.00" stroke="#d62728" stroke-linecap="butt"/>
<path d="M134.60,747.80 L136.69,747.77 L138.77,747.78 L140.85,747.83 L142.92,747.93 L144.99,748.07 L147.05,748.24 L149.10,748.46 L151.15,748.71 L153.20,749.00 L155.23,749.32 L157.26,749.68 L159.29,750.07 L161.30,750.50 L163.31,750.96 L165.31,751.45 L167.31,751.97 L169.30,752.53 L171.28,753.11 L173.25,753.71 L175.22,754.35 L177.18,755.01 L179.13,755.70 L181.07,756.41 L183.00,757.14 L184.93,757.90 L186.85,758.67 L188.75,759.47 L190.65,760.29 L192.55,761.13 L194.43,761.99 L196.30,762.86 L198.17,763.75 L200.02,764.65 L201.86,765.57 L203.70,766.50 L204.90,764.79 L206.23,763.32 L207.69,762.07 L209.26,761.03 L210.93,760.18 L212.68,759.50 L214.52,758.97 L216.42,758.58 L218.37,758.31 L220.37,758.15 L222.40,758.07 L224.44,758.06 L226.50,758.10 L228.55,758.19 L230.61,758.31 L232.66,758.48 L234.72,758.68 L236.77,758.91 L238.82,759.17 L240.87,759.47 L242.92,759.79 L244.97,760.15 L247.01,760.52 L249.05,760.92 L251.09,761.34 L253.12,761.78 L255.15,762.24 L257.17,762.72 L259.19,763.21 L261.21,763.71 L263.22,764.22 L265.22,764.74 L267.21,765.26 L269.20,765.80 L271.19,766.33 L273.16,766.88 L275.13,767.43 L277.10,767.99 L279.05,768.56 L281.00,769.14 L282.94,769.73 L284.88,770.33 L286.81,770.95 L288.73,771.57 L290.65,772.22 L292.56,772.87 L294.46,773.54 L296.36,774.23 L298.24,774.93 L300.13,775.65 L302.00,776.39 L303.87,777.15 L305.74,777.93 L307.59,778.73 L309.44,779.55 L311.28,780.40 L313.12,781.26 L314.95,782.16 L316.77,783.07 L318.59,784.01 L320.40,784.98 L322.20,785.98 L324.00,787.00" stroke="#9467bd" stroke-dasharray="13.06 5.65" stroke-linecap="butt"/>
<path d="M134.60,747.80 L136.69,747.77 L138.77,747.78 L140.85,747.83 L142.92,747.93 L144.99,748.07 L147.05,748.24 L149.10,748.46 L151.15,748.71 L153.20,749.00 L155.23,749.32 L157.26,749.68 L159.29,750.07 L161.30,750.50 L163.31,750.96 L165.31,751.45 L167.31,751.97 L169.30,752.53 L171.28,753.11 L173.25,753.71 L175.22,754.35 L177.18,755.01 L179.13,755.70 L181.07,756.41 L183.00,757.14 L184.93,757.90 L186.85,758.67 L188.75,759.47 L190.65,760.29 L192.55,761.13 L194.43,761.99 L196.30,762.86 L198.17,763.75 L200.02,764.65 L201.86,765.57 L203.70,766.50 L203.77,768.92 L204.26,771.18 L205.06,773.34 L206.10,775.41 L207.27,777.44 L208.48,779.45 L209.65,781.48 L210.69,783.56 L211.50,785.72 L212.00,788.00" stroke="#8c564b" stroke-dasharray="22.59 5.65 3.53 5.65" stroke-linecap="butt"/>
</g>
<rect x="134.60" y="561.60" width="306.70" height="223.00" fill="none" stroke="#000" stroke-width="3.00" stroke-linejoin="miter"/>
<line x1="134.90" y1="560.10" x2="134.90" y2="786.10" stroke="#000" stroke-width="3.8"/>
<g stroke="#000" stroke-width="3.00"><line x1="134.60" y1="784.60" x2="134.60" y2="797.10"/><line x1="195.94" y1="784.60" x2="195.94" y2="797.10"/><line x1="257.28" y1="784.60" x2="257.28" y2="797.10"/><line x1="318.62" y1="784.60" x2="318.62" y2="797.10"/><line x1="379.96" y1="784.60" x2="379.96" y2="797.10"/><line x1="441.30" y1="784.60" x2="441.30" y2="797.10"/><line x1="134.60" y1="748.44" x2="122.10" y2="748.44"/><line x1="134.60" y1="688.17" x2="122.10" y2="688.17"/><line x1="134.60" y1="627.90" x2="122.10" y2="627.90"/><line x1="134.60" y1="567.63" x2="122.10" y2="567.63"/></g>
<text x="134.60" y="839.90" text-anchor="middle">0</text>
<text x="195.94" y="839.90" text-anchor="middle">2</text>
<text x="257.28" y="839.90" text-anchor="middle">4</text>
<text x="318.62" y="839.90" text-anchor="middle">6</text>
<text x="379.96" y="839.90" text-anchor="middle">8</text>
<text x="441.30" y="839.90" text-anchor="middle">10</text>
<text><tspan x="57.03" y="770.93" style="font-size:55.68px">−</tspan><tspan x="87.95" y="763.34">2</tspan></text>
<text><tspan x="57.03" y="710.66" style="font-size:55.68px">−</tspan><tspan x="87.95" y="703.07">1</tspan></text>
<text x="87.95" y="642.80">0</text>
<text x="87.95" y="582.53">1</text>
<text class="it"><tspan x="264.75" y="890.70">k </tspan><tspan x="293.90" y="890.70">ℓ</tspan></text>
<text transform="translate(31.70,723.90) rotate(-90)"><tspan x="-1.08" y="0" textLength="25.04" lengthAdjust="spacingAndGlyphs">R</tspan><tspan x="27.30" y="0">e</tspan><tspan x="49.63" y="0.9" class="pr" style="font-size:47.0px">(</tspan><tspan x="62.60" y="0" class="it">σ</tspan><tspan x="87.59" y="0.9" class="pr" style="font-size:47.0px">)</tspan></text>
<text><tspan x="75.13" y="518.50" class="pr" style="font-size:47.0px">(</tspan><tspan x="92.26" y="517.60" class="it">c</tspan><tspan x="109.21" y="518.50" class="pr" style="font-size:47.0px">)</tspan></text>
<g stroke="#a6a6a6" stroke-width="2.83" stroke-dasharray="2.83 4.67" fill="none" clip-path="url(#clipd)"><line x1="735.94" y1="784.60" x2="735.94" y2="561.60"/><line x1="797.28" y1="784.60" x2="797.28" y2="561.60"/><line x1="858.62" y1="784.60" x2="858.62" y2="561.60"/><line x1="919.96" y1="784.60" x2="919.96" y2="561.60"/><line x1="674.60" y1="784.60" x2="981.30" y2="784.60"/><line x1="674.60" y1="695.40" x2="981.30" y2="695.40"/></g>
<line x1="674.60" y1="606.20" x2="981.30" y2="606.20" stroke="#000" stroke-width="5.60"/>
<g clip-path="url(#clipd)" fill="none" stroke-width="3.75" stroke-linejoin="round">
<path d="M674.60,575.60 L676.79,575.56 L678.94,575.65 L681.07,575.87 L683.18,576.19 L685.26,576.61 L687.33,577.11 L689.38,577.69 L691.41,578.34 L693.44,579.03 L695.45,579.76 L697.47,580.52 L699.47,581.30 L701.48,582.08 L703.49,582.86 L705.51,583.61 L707.53,584.34 L709.57,585.02 L711.62,585.65 L713.68,586.21 L715.77,586.70 L717.87,587.10 L720.00,587.40 L722.04,587.37 L724.08,587.38 L726.11,587.41 L728.13,587.47 L730.16,587.56 L732.17,587.67 L734.19,587.80 L736.19,587.96 L738.20,588.15 L740.19,588.36 L742.19,588.59 L744.18,588.85 L746.16,589.13 L748.14,589.43 L750.12,589.75 L752.09,590.10 L754.06,590.46 L756.02,590.85 L757.98,591.25 L759.94,591.68 L761.89,592.13 L763.83,592.59 L765.78,593.08 L767.72,593.58 L769.65,594.10 L771.58,594.63 L773.51,595.19 L775.43,595.76 L777.35,596.34 L779.27,596.94 L781.18,597.56 L783.09,598.19 L784.99,598.84 L786.89,599.50 L788.79,600.17 L790.68,600.86 L792.57,601.56 L794.46,602.27 L796.34,603.00 L798.22,603.73 L800.10,604.48 L801.98,605.24 L803.85,606.00 L805.71,606.78 L807.58,607.57 L809.44,608.36 L811.30,609.17 L813.15,609.98 L815.00,610.80 L816.85,611.63 L818.70,612.47 L820.54,613.31 L822.38,614.16 L824.22,615.01 L826.06,615.87 L827.89,616.74 L829.72,617.61 L831.54,618.49 L833.37,619.37 L835.19,620.26 L837.01,621.16 L838.82,622.06 L840.63,622.97 L842.44,623.88 L844.25,624.80 L846.05,625.72 L847.85,626.65 L849.65,627.59 L851.45,628.53 L853.24,629.48 L855.03,630.43 L856.82,631.39 L858.60,632.35 L860.38,633.32 L862.16,634.29 L863.94,635.27 L865.71,636.26 L867.48,637.25 L869.25,638.24 L871.01,639.24 L872.77,640.25 L874.53,641.25 L876.29,642.27 L878.04,643.29 L879.79,644.31 L881.54,645.34 L883.28,646.38 L885.03,647.41 L886.77,648.46 L888.50,649.51 L890.24,650.56 L891.97,651.61 L893.69,652.68 L895.42,653.74 L897.14,654.81 L898.86,655.89 L900.58,656.97 L902.29,658.05 L904.00,659.14 L905.71,660.23 L907.42,661.33 L909.12,662.43 L910.82,663.53 L912.52,664.64 L914.21,665.75 L915.90,666.87 L917.59,667.99 L919.28,669.11 L920.96,670.24 L922.64,671.37 L924.32,672.51 L925.99,673.64 L927.67,674.79 L929.33,675.93 L931.00,677.08 L932.66,678.24 L934.33,679.39 L935.98,680.55 L937.64,681.72 L939.29,682.89 L940.94,684.06 L942.59,685.23 L944.23,686.41 L945.87,687.59 L947.51,688.77 L949.15,689.96 L950.78,691.15 L952.41,692.34 L954.04,693.53 L955.66,694.73 L957.28,695.93 L958.90,697.14 L960.52,698.34 L962.13,699.55 L963.74,700.77 L965.35,701.98 L966.96,703.20 L968.56,704.42 L970.16,705.64 L971.75,706.87 L973.35,708.09 L974.94,709.32 L976.53,710.56 L978.11,711.79 L979.70,713.03 L981.28,714.27 L982.85,715.51 L984.43,716.75 L986.00,718.00" stroke="#1f77b4" stroke-linecap="butt"/>
<path d="M674.60,575.60 L676.79,575.56 L678.94,575.65 L681.07,575.87 L683.18,576.19 L685.26,576.61 L687.33,577.11 L689.38,577.69 L691.41,578.34 L693.44,579.03 L695.45,579.76 L697.47,580.52 L699.47,581.30 L701.48,582.08 L703.49,582.86 L705.51,583.61 L707.53,584.34 L709.57,585.02 L711.62,585.65 L713.68,586.21 L715.77,586.70 L717.87,587.10 L720.00,587.40 L721.95,587.95 L723.91,588.50 L725.87,589.04 L727.83,589.58 L729.79,590.11 L731.75,590.64 L733.71,591.17 L735.67,591.69 L737.64,592.21 L739.60,592.73 L741.57,593.25 L743.54,593.76 L745.50,594.28 L747.47,594.79 L749.44,595.30 L751.41,595.81 L753.37,596.32 L755.34,596.83 L757.31,597.34 L759.28,597.85 L761.24,598.37 L763.21,598.88 L765.17,599.40 L767.14,599.92 L769.10,600.44 L771.07,600.96 L773.03,601.49 L774.99,602.02 L776.95,602.56 L778.91,603.09 L780.87,603.64 L782.82,604.18 L784.78,604.74 L786.73,605.30 L788.68,605.86 L790.63,606.43 L792.58,607.01 L794.52,607.59 L796.47,608.18 L798.41,608.78 L800.34,609.39 L802.28,610.00 L804.21,610.62 L806.14,611.25 L808.07,611.89 L809.99,612.54 L811.91,613.20 L813.83,613.87 L815.75,614.55 L817.66,615.24 L819.56,615.94 L821.47,616.65 L823.37,617.38 L825.27,618.11 L827.16,618.86 L829.05,619.62 L830.93,620.39 L832.81,621.18 L834.69,621.98 L836.56,622.80 L838.43,623.63 L840.29,624.47 L842.15,625.33 L844.00,626.20 L845.87,627.01 L847.74,627.84 L849.60,628.68 L851.46,629.52 L853.31,630.38 L855.16,631.25 L857.00,632.12 L858.83,633.01 L860.67,633.91 L862.49,634.81 L864.32,635.73 L866.14,636.65 L867.95,637.58 L869.76,638.52 L871.56,639.47 L873.36,640.43 L875.16,641.40 L876.95,642.38 L878.74,643.36 L880.52,644.36 L882.30,645.36 L884.07,646.37 L885.84,647.38 L887.61,648.41 L889.37,649.44 L891.13,650.48 L892.88,651.52 L894.63,652.58 L896.38,653.64 L898.12,654.71 L899.86,655.78 L901.59,656.86 L903.32,657.95 L905.05,659.04 L906.77,660.15 L908.49,661.25 L910.21,662.37 L911.92,663.48 L913.63,664.61 L915.33,665.74 L917.04,666.88 L918.73,668.02 L920.43,669.16 L922.12,670.32 L923.81,671.47 L925.50,672.64 L927.18,673.80 L928.86,674.98 L930.53,676.15 L932.21,677.33 L933.88,678.52 L935.54,679.71 L937.21,680.90 L938.87,682.10 L940.53,683.30 L942.18,684.50 L943.84,685.71 L945.49,686.93 L947.14,688.14 L948.78,689.36 L950.42,690.58 L952.06,691.81 L953.70,693.03 L955.34,694.26 L956.97,695.50 L958.60,696.73 L960.23,697.97 L961.85,699.21 L963.48,700.45 L965.10,701.70 L966.72,702.94 L968.34,704.19 L969.95,705.44 L971.56,706.69 L973.18,707.95 L974.79,709.20 L976.39,710.45 L978.00,711.71 L979.60,712.97 L981.20,714.22 L982.80,715.48 L984.40,716.74 L986.00,718.00" stroke="#ff7f0e" stroke-dasharray="13.06 5.65" stroke-linecap="butt"/>
<path d="M674.60,606.10 L676.69,605.99 L678.76,605.74 L680.80,605.34 L682.83,604.83 L684.83,604.20 L686.82,603.48 L688.79,602.67 L690.75,601.80 L692.69,600.86 L694.63,599.88 L696.55,598.87 L698.47,597.85 L700.39,596.82 L702.30,595.79 L704.21,594.79 L706.12,593.83 L708.03,592.91 L709.95,592.06 L711.87,591.28 L713.80,590.59 L715.74,590.00 L717.69,589.52 L719.65,589.18 L721.62,588.97 L723.61,588.92 L725.62,589.04 L727.65,589.33 L729.70,589.83 L731.78,590.53 L733.88,591.45 L736.00,592.60 L738.03,592.98 L740.06,593.37 L742.08,593.77 L744.11,594.18 L746.13,594.59 L748.14,595.02 L750.16,595.46 L752.17,595.90 L754.18,596.36 L756.19,596.82 L758.20,597.29 L760.20,597.77 L762.20,598.26 L764.20,598.76 L766.20,599.27 L768.19,599.79 L770.18,600.31 L772.17,600.85 L774.16,601.39 L776.14,601.94 L778.12,602.50 L780.10,603.07 L782.08,603.65 L784.05,604.23 L786.02,604.82 L787.99,605.43 L789.96,606.04 L791.92,606.65 L793.88,607.28 L795.84,607.91 L797.80,608.56 L799.75,609.21 L801.70,609.86 L803.65,610.53 L805.60,611.20 L807.54,611.88 L809.48,612.57 L811.42,613.27 L813.36,613.97 L815.29,614.68 L817.23,615.40 L819.15,616.12 L821.08,616.86 L823.01,617.60 L824.93,618.34 L826.85,619.10 L828.76,619.86 L830.68,620.63 L832.59,621.40 L834.50,622.19 L836.40,622.98 L838.30,623.77 L840.21,624.57 L842.10,625.38 L844.00,626.20 L845.81,627.16 L847.60,628.13 L849.38,629.14 L851.14,630.16 L852.89,631.20 L854.62,632.26 L856.34,633.34 L858.05,634.44 L859.74,635.55 L861.42,636.69 L863.09,637.84 L864.75,639.00 L866.40,640.18 L868.04,641.37 L869.67,642.58 L871.29,643.80 L872.90,645.03 L874.50,646.28 L876.09,647.53 L877.68,648.79 L879.26,650.07 L880.83,651.35 L882.40,652.64 L883.96,653.93 L885.52,655.24 L887.08,656.55 L888.63,657.86 L890.17,659.18 L891.72,660.50 L893.26,661.83 L894.80,663.16 L896.34,664.49 L897.87,665.83 L899.40,667.17 L900.93,668.51 L902.46,669.85 L903.99,671.20 L905.52,672.55 L907.04,673.90 L908.56,675.25 L910.08,676.61 L911.60,677.97 L913.12,679.32 L914.64,680.68 L916.16,682.04 L917.68,683.40 L919.19,684.76 L920.71,686.12 L922.23,687.49 L923.74,688.85 L925.26,690.21 L926.78,691.57 L928.29,692.93 L929.81,694.29 L931.33,695.64 L932.85,697.00 L934.37,698.36 L935.89,699.71 L937.42,701.06 L938.94,702.41 L940.47,703.76 L941.99,705.10 L943.52,706.44 L945.05,707.78 L946.59,709.12 L948.12,710.45 L949.66,711.78 L951.20,713.11 L952.75,714.43 L954.29,715.75 L955.84,717.07 L957.39,718.38 L958.95,719.68 L960.51,720.98 L962.07,722.28 L963.63,723.57 L965.20,724.86 L966.77,726.14 L968.35,727.41 L969.93,728.68 L971.52,729.94 L973.11,731.20 L974.70,732.45 L976.30,733.69 L977.90,734.93 L979.51,736.16 L981.13,737.38 L982.74,738.60 L984.37,739.80 L986.00,741.00" stroke="#2ca02c" stroke-dasharray="22.59 5.65 3.53 5.65" stroke-linecap="butt"/>
<path d="M674.60,606.20 L676.74,606.21 L678.85,606.30 L680.92,606.48 L682.96,606.73 L684.96,607.07 L686.93,607.47 L688.87,607.95 L690.79,608.49 L692.67,609.10 L694.54,609.76 L696.37,610.48 L698.19,611.25 L699.98,612.07 L701.75,612.93 L703.51,613.84 L705.24,614.78 L706.96,615.76 L708.67,616.77 L710.37,617.81 L712.05,618.88 L713.72,619.96 L715.38,621.06 L717.04,622.18 L718.69,623.30 L720.34,624.44 L721.98,625.58 L723.62,626.73 L725.25,627.89 L726.88,629.05 L728.50,630.23 L730.12,631.41 L731.74,632.60 L733.35,633.79 L734.96,634.99 L736.56,636.19 L738.17,637.40 L739.77,638.62 L741.37,639.84 L742.96,641.06 L744.56,642.29 L746.15,643.52 L747.74,644.76 L749.33,646.00 L750.91,647.24 L752.50,648.48 L754.08,649.73 L755.67,650.97 L757.25,652.22 L758.83,653.47 L760.42,654.72 L762.00,655.97 L763.58,657.23 L765.16,658.48 L766.75,659.73 L768.33,660.98 L769.92,662.23 L771.51,663.47 L773.09,664.72 L774.68,665.96 L776.28,667.20 L777.87,668.44 L779.46,669.68 L781.06,670.91 L782.66,672.14 L784.26,673.36 L785.87,674.58 L787.48,675.80 L789.09,677.01 L790.70,678.23 L792.31,679.43 L793.93,680.64 L795.55,681.84 L797.17,683.04 L798.79,684.23 L800.41,685.43 L802.04,686.62 L803.66,687.81 L805.29,689.00 L806.92,690.18 L808.55,691.36 L810.18,692.55 L811.81,693.73 L813.45,694.90 L815.08,696.08 L816.72,697.26 L818.35,698.43 L819.99,699.60 L821.62,700.78 L823.26,701.95 L824.90,703.12 L826.53,704.29 L828.17,705.46 L829.81,706.63 L831.45,707.80 L833.08,708.97 L834.72,710.14 L836.36,711.31 L837.99,712.48 L839.63,713.65 L841.26,714.82 L842.90,715.99 L844.53,717.17 L846.16,718.34 L847.80,719.51 L849.43,720.69 L851.06,721.87 L852.68,723.05 L854.31,724.23 L855.94,725.41 L857.56,726.59 L859.18,727.78 L860.80,728.97 L862.42,730.16 L864.04,731.35 L865.66,732.55 L867.27,733.74 L868.88,734.94 L870.49,736.15 L872.10,737.35 L873.70,738.56 L875.30,739.77 L876.90,740.99 L878.50,742.21 L880.09,743.43 L881.68,744.66 L883.27,745.89 L884.85,747.12 L886.44,748.36 L888.02,749.60 L889.59,750.85 L891.16,752.10 L892.73,753.35 L894.30,754.61 L895.86,755.88 L897.41,757.15 L898.97,758.42 L900.52,759.70 L902.06,760.99 L903.61,762.28 L905.14,763.58 L906.68,764.88 L908.21,766.19 L909.73,767.50 L911.25,768.82 L912.76,770.15 L914.28,771.48 L915.78,772.82 L917.28,774.16 L918.78,775.51 L920.27,776.87 L921.75,778.24 L923.23,779.61 L924.71,780.99 L926.18,782.38 L927.64,783.77 L929.10,785.17 L930.55,786.58 L932.00,788.00" stroke="#d62728" stroke-linecap="butt"/>
<path d="M674.60,726.00 L676.71,726.05 L678.81,726.17 L680.89,726.36 L682.96,726.61 L685.01,726.91 L687.05,727.28 L689.07,727.71 L691.08,728.19 L693.07,728.73 L695.05,729.32 L697.01,729.96 L698.95,730.65 L700.87,731.39 L702.78,732.18 L704.67,733.01 L706.55,733.88 L708.41,734.80 L710.24,735.75 L712.06,736.75 L713.87,737.78 L715.65,738.84 L717.42,739.94 L719.16,741.07 L720.89,742.23 L722.60,743.42 L724.29,744.64 L725.96,745.88 L727.61,747.14 L729.24,748.43 L730.84,749.73 L732.43,751.06 L734.00,752.40 L734.19,750.06 L734.63,747.99 L735.32,746.17 L736.23,744.58 L737.34,743.21 L738.62,742.05 L740.07,741.07 L741.65,740.27 L743.36,739.62 L745.17,739.12 L747.05,738.74 L749.00,738.47 L750.99,738.30 L753.00,738.21 L755.02,738.19 L757.04,738.23 L759.06,738.33 L761.08,738.49 L763.10,738.71 L765.13,738.97 L767.15,739.29 L769.18,739.66 L771.20,740.07 L773.22,740.52 L775.24,741.01 L777.25,741.53 L779.26,742.09 L781.27,742.68 L783.27,743.29 L785.27,743.94 L787.25,744.60 L789.24,745.28 L791.21,745.98 L793.18,746.70 L795.13,747.42 L797.08,748.15 L799.02,748.89 L800.94,749.63 L802.86,750.38 L804.77,751.13 L806.66,751.89 L808.55,752.65 L810.43,753.42 L812.29,754.20 L814.15,754.98 L816.00,755.77 L817.84,756.57 L819.67,757.38 L821.50,758.20 L823.31,759.03 L825.12,759.87 L826.92,760.72 L828.71,761.58 L830.50,762.46 L832.28,763.34 L834.05,764.24 L835.81,765.16 L837.57,766.08 L839.32,767.02 L841.07,767.98 L842.81,768.95 L844.54,769.94 L846.27,770.94 L847.99,771.96 L849.71,773.00 L851.43,774.06 L853.13,775.13 L854.84,776.23 L856.54,777.34 L858.23,778.47 L859.92,779.63 L861.61,780.80 L863.30,782.00 L864.98,783.21 L866.65,784.45 L868.33,785.71 L870.00,787.00" stroke="#9467bd" stroke-dasharray="13.06 5.65" stroke-linecap="butt"/>
<path d="M674.60,726.00 L676.71,726.05 L678.81,726.17 L680.89,726.36 L682.96,726.61 L685.01,726.91 L687.05,727.28 L689.07,727.71 L691.08,728.19 L693.07,728.73 L695.05,729.32 L697.01,729.96 L698.95,730.65 L700.87,731.39 L702.78,732.18 L704.67,733.01 L706.55,733.88 L708.41,734.80 L710.24,735.75 L712.06,736.75 L713.87,737.78 L715.65,738.84 L717.42,739.94 L719.16,741.07 L720.89,742.23 L722.60,743.42 L724.29,744.64 L725.96,745.88 L727.61,747.14 L729.24,748.43 L730.84,749.73 L732.43,751.06 L734.00,752.40 L733.97,754.59 L734.10,756.75 L734.38,758.88 L734.78,760.98 L735.28,763.07 L735.87,765.14 L736.52,767.20 L737.21,769.25 L737.93,771.29 L738.64,773.34 L739.34,775.39 L740.00,777.45 L740.60,779.52 L741.12,781.60 L741.54,783.71 L741.84,785.84 L742.00,788.00" stroke="#8c564b" stroke-dasharray="22.59 5.65 3.53 5.65" stroke-linecap="butt"/>
</g>
<rect x="674.60" y="561.60" width="306.70" height="223.00" fill="none" stroke="#000" stroke-width="3.00" stroke-linejoin="miter"/>
<line x1="674.90" y1="560.10" x2="674.90" y2="786.10" stroke="#000" stroke-width="3.8"/>
<g stroke="#000" stroke-width="3.00"><line x1="674.60" y1="784.60" x2="674.60" y2="797.10"/><line x1="735.94" y1="784.60" x2="735.94" y2="797.10"/><line x1="797.28" y1="784.60" x2="797.28" y2="797.10"/><line x1="858.62" y1="784.60" x2="858.62" y2="797.10"/><line x1="919.96" y1="784.60" x2="919.96" y2="797.10"/><line x1="981.30" y1="784.60" x2="981.30" y2="797.10"/><line x1="674.60" y1="784.60" x2="662.10" y2="784.60"/><line x1="674.60" y1="695.40" x2="662.10" y2="695.40"/><line x1="674.60" y1="606.20" x2="662.10" y2="606.20"/></g>
<text x="674.60" y="839.90" text-anchor="middle">0</text>
<text x="735.94" y="839.90" text-anchor="middle">2</text>
<text x="797.28" y="839.90" text-anchor="middle">4</text>
<text x="858.62" y="839.90" text-anchor="middle">6</text>
<text x="919.96" y="839.90" text-anchor="middle">8</text>
<text x="981.30" y="839.90" text-anchor="middle">10</text>
<text><tspan x="597.03" y="807.09" style="font-size:55.68px">−</tspan><tspan x="627.95" y="799.50">2</tspan></text>
<text><tspan x="597.03" y="717.89" style="font-size:55.68px">−</tspan><tspan x="627.95" y="710.30">1</tspan></text>
<text x="627.95" y="621.10">0</text>
<text class="it"><tspan x="804.75" y="890.70">k </tspan><tspan x="833.90" y="890.70">ℓ</tspan></text>
<text transform="translate(571.90,724.70) rotate(-90)"><tspan x="-1.08" y="0" textLength="25.04" lengthAdjust="spacingAndGlyphs">R</tspan><tspan x="27.30" y="0">e</tspan><tspan x="49.63" y="0.9" class="pr" style="font-size:47.0px">(</tspan><tspan x="62.60" y="0" class="it">σ</tspan><tspan x="87.59" y="0.9" class="pr" style="font-size:47.0px">)</tspan></text>
<text><tspan x="615.13" y="518.50" class="pr" style="font-size:47.0px">(</tspan><tspan x="631.88" y="517.60" class="it">d</tspan><tspan x="653.21" y="518.50" class="pr" style="font-size:47.0px">)</tspan></text>
</svg></body></html>
